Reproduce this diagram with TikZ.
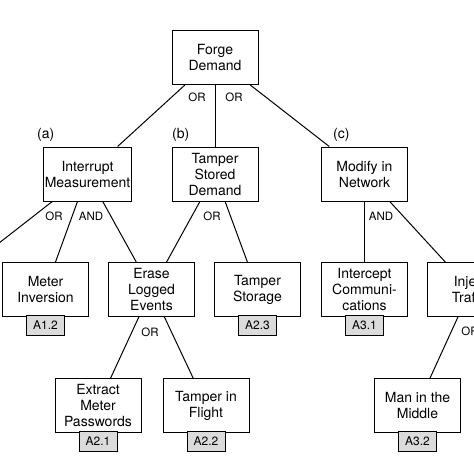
\documentclass[tikz,border=0pt]{standalone}
\usepackage{fontspec}
\setmainfont{TeX Gyre Heros}
\usepackage{tikz}
\usetikzlibrary{ positioning % For easy node-relative placements
               }
\tikzstyle{link} = [draw=black, line width=1pt]
\tikzstyle{goal} = [rectangle, draw=black, line width=1pt, minimum width=86pt, minimum height=54pt,
                    inner sep=1pt, align=center, font=\fontsize{14}{16}\selectfont]
\tikzstyle{tag} = [rectangle, draw=black, fill=black!14, line width=0.9pt, minimum width=38pt,
                   minimum height=20pt, inner sep=0pt, font=\fontsize{12}{14}\selectfont]
\tikzstyle{gate} = [inner sep=0pt, font=\fontsize{11.5}{13}\selectfont]
\tikzstyle{case} = [inner sep=0pt, anchor=west, font=\fontsize{14}{16}\selectfont]

\begin{document}
\begin{tikzpicture}[x=1pt, y=-1pt]
  \useasboundingbox (0,0) rectangle (474,474);
  \clip (0,0) rectangle (474,474);

  % top goal
  \node (fd) [goal] at (215, 57.5) {Forge\\Demand};

  % second level
  \node (im) [goal] at (87.5, 174) {Interrupt\\Measurement};
  \node (tsd) [goal] at (215, 174) {Tamper\\Stored\\Demand};
  \node (mn) [goal] at (364.5, 174) {Modify in\\Network};
  \node (ca) [case] at (37, 135) {(a)};
  \node (cb) [case] at (172, 135) {(b)};
  \node (cc) [case] at (333, 135) {(c)};

  % third level
  \coordinate (a11) at (-60.5, 289.5);
  \node (mi) [goal] at (45.5, 289.5) {Meter\\Inversion};
  \node (ele) [goal] at (151.5, 289.5) {Erase\\Logged\\Events};
  \node (ts) [goal] at (257.5, 289.5) {Tamper\\Storage};
  \node (ic) [goal] at (364.5, 289.5) {Intercept\\Communi-\\cations};
  \node (it) [goal] at (470.5, 289.5) {Inject\\Traffic};

  % fourth level
  \node (emp) [goal] at (98, 405.5) {Extract\\Meter\\Passwords};
  \node (tf) [goal] at (206, 405.5) {Tamper in\\Flight};
  \node (mm) [goal] at (417.5, 405.5) {Man in the\\Middle};

  % attack ids
  \node (t12) [tag, below=-2pt of mi] {A1.2};
  \node (t23) [tag, below=-2pt of ts] {A2.3};
  \node (t31) [tag, below=-2pt of ic] {A3.1};
  \node (t21) [tag, below=-2pt of emp] {A2.1};
  \node (t22) [tag, below=-2pt of tf] {A2.2};
  \node (t32) [tag, below=-2pt of mm] {A3.2};

  % connectors
  \path [link] (fd) edge (im);
  \path [link] (fd) edge (tsd);
  \path [link] (fd) edge (mn);
  \path [link] (im) edge (a11);
  \path [link] (im) edge (mi);
  \path [link] (im) edge (ele);
  \path [link] (tsd) edge (ele);
  \path [link] (tsd) edge (ts);
  \path [link] (mn) edge (ic);
  \path [link] (mn) edge (it);
  \path [link] (ele) edge (emp);
  \path [link] (ele) edge (tf);
  \path [link] (it) edge (mm);

  % gates
  \node (g1) [gate] at (197, 97) {OR};
  \node (g2) [gate] at (234, 97) {OR};
  \node (g3) [gate] at (54, 216) {OR};
  \node (g4) [gate] at (91, 216) {AND};
  \node (g5) [gate] at (212, 216) {OR};
  \node (g6) [gate] at (381, 216) {AND};
  \node (g7) [gate] at (150, 332) {OR};
  \node (g8) [gate] at (470, 331) {OR};
\end{tikzpicture}
\end{document}
